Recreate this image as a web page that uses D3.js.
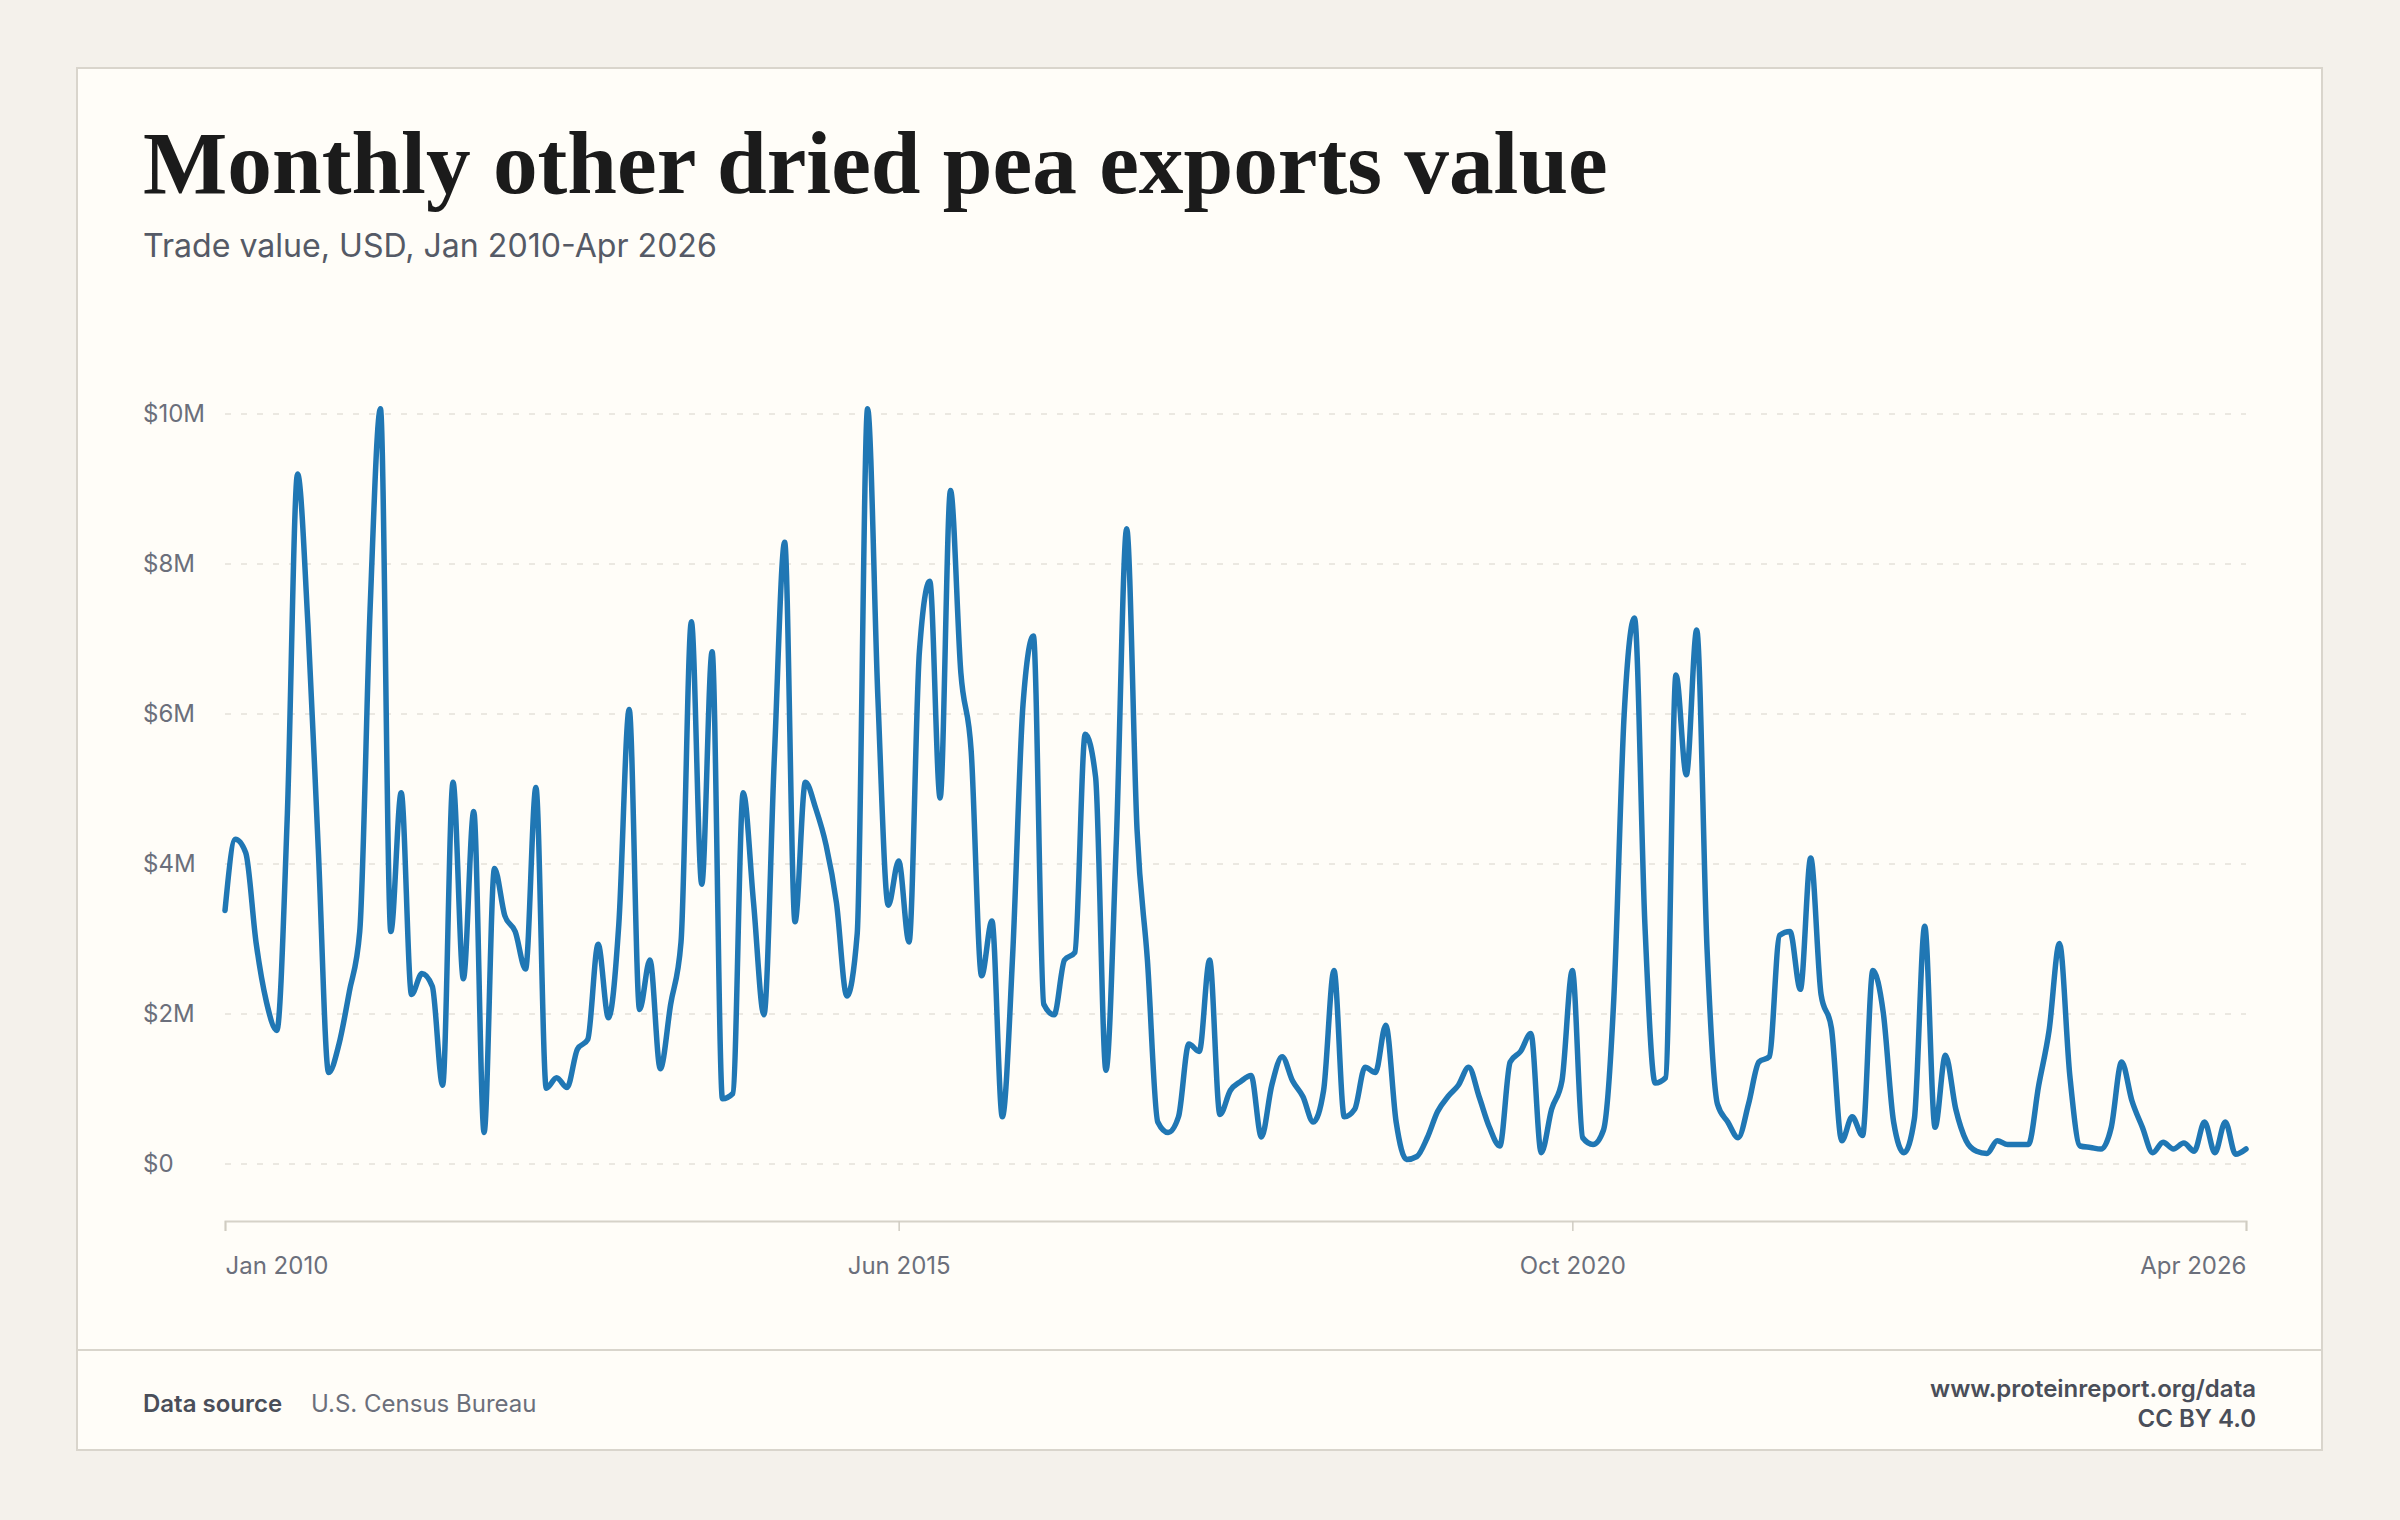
<!DOCTYPE html>
<html>
<head>
<meta charset="utf-8">
<script src="https://cdn.jsdelivr.net/npm/d3@7"></script>
<style>
  html, body { margin: 0; padding: 0; background: #f4f1eb; }
  svg { display: block; }
  text { font-family: Inter, 'Noto Sans', sans-serif; }
</style>
</head>
<body>
<div class="chart"></div>
<script>
// Monthly trade value, USD millions, Jan 2010 - Apr 2026 (one value per month)
const values = [
  3.38, 4.33, 4.15, 2.95, 2.16, 1.78, 4.6, 9.2, 7.2, 4.2, 1.22, 1.6,
  2.3, 3.1, 7.4, 10.07, 3.1, 4.95, 2.26, 2.54, 2.37, 1.05, 5.09, 2.47,
  4.7, 0.42, 3.94, 3.31, 3.1, 2.6, 5.02, 1.01, 1.15, 1.02, 1.53, 1.66,
  2.93, 1.95, 3.2, 6.06, 2.06, 2.72, 1.27, 2.13, 2.96, 7.23, 3.73, 6.83,
  0.87, 0.94, 4.95, 3.48, 1.99, 5.4, 8.29, 3.23, 5.09, 4.74, 4.25, 3.48,
  2.24, 3.07, 10.07, 6.2, 3.45, 4.04, 2.96, 6.83, 7.77, 4.88, 8.98, 6.55,
  5.5, 2.51, 3.24, 0.63, 2.79, 6.13, 7.04, 2.13, 1.99, 2.72, 2.82, 5.73,
  5.16, 1.25, 4.3, 8.47, 4.46, 2.72, 0.56, 0.42, 0.63, 1.6, 1.5, 2.72,
  0.66, 0.98, 1.1, 1.18, 0.36, 1.05, 1.43, 1.11, 0.9, 0.56, 0.98, 2.58,
  0.63, 0.73, 1.29, 1.22, 1.85, 0.56, 0.06, 0.1, 0.35, 0.7, 0.9, 1.05,
  1.29, 0.9, 0.49, 0.24, 1.36, 1.5, 1.74, 0.15, 0.73, 1.11, 2.58, 0.35,
  0.26, 0.45, 2.2, 5.99, 7.28, 3.2, 1.08, 1.15, 6.52, 5.19, 7.12, 2.86,
  0.8, 0.56, 0.35, 0.8, 1.36, 1.43, 3.05, 3.1, 2.33, 4.08, 2.26, 1.81,
  0.31, 0.63, 0.38, 2.58, 2.02, 0.56, 0.15, 0.6, 3.17, 0.49, 1.45, 0.73,
  0.31, 0.17, 0.14, 0.31, 0.26, 0.26, 0.26, 1.05, 1.78, 2.94, 1.18, 0.24,
  0.22, 0.2, 0.49, 1.36, 0.84, 0.49, 0.15, 0.29, 0.2, 0.28, 0.17, 0.56,
  0.15, 0.56, 0.13, 0.2
];
const yTicks = [0, 2, 4, 6, 8, 10];
const xTickLabels = ['Jan 2010', 'Jun 2015', 'Oct 2020', 'Apr 2026'];

const width = 2400, height = 1520;
const card = { x: 77, y: 68, w: 2245, h: 1382, footerY: 1350 };
const plot = { left: 225, right: 2246, top: 414, bottom: 1164, axisY: 1221 };

const svg = d3.select('.chart').append('svg')
    .attr('width', width)
    .attr('height', height);

// Card
svg.append('rect')
    .attr('x', card.x).attr('y', card.y)
    .attr('width', card.w).attr('height', card.h)
    .attr('fill', '#fffdf8')
    .attr('stroke', '#d9d5cc')
    .attr('stroke-width', 2);

svg.append('line')
    .attr('x1', card.x).attr('x2', card.x + card.w)
    .attr('y1', card.footerY).attr('y2', card.footerY)
    .attr('stroke', '#d9d5cc')
    .attr('stroke-width', 2);

// Title + subtitle, sized to the reference width
function fitText(sel, target) {
    const w = sel.node().getComputedTextLength();
    const fs = parseFloat(sel.attr('font-size'));
    sel.attr('font-size', fs * target / w);
}

const title = svg.append('text')
    .attr('x', 143).attr('y', 193)
    .style('font-family', "'Liberation Serif', 'DejaVu Serif', serif")
    .attr('font-weight', 700)
    .attr('font-size', 80)
    .attr('fill', '#1b1b1b')
    .text('Monthly other dried pea exports value');
fitText(title, 1465);

const subtitle = svg.append('text')
    .attr('x', 143).attr('y', 257)
    .attr('font-size', 30)
    .attr('fill', '#555a66')
    .text('Trade value, USD, Jan 2010-Apr 2026');
fitText(subtitle, 574);

// Scales
const xScale = d3.scaleLinear().domain([0, values.length - 1]).range([plot.left, plot.right]);
const yScale = d3.scaleLinear().domain([0, 10]).range([plot.bottom, plot.top]);

// Gridlines
svg.append('g')
    .selectAll('line')
    .data(yTicks)
    .join('line')
    .attr('x1', plot.left).attr('x2', plot.right)
    .attr('y1', d => yScale(d)).attr('y2', d => yScale(d))
    .attr('stroke', '#ebe8e1')
    .attr('stroke-width', 2)
    .attr('stroke-dasharray', '6,10');

// Y axis labels
const yAxis = svg.append('g')
    .attr('transform', `translate(${plot.left},0)`)
    .call(d3.axisLeft(yScale).tickValues(yTicks).tickSize(0)
        .tickFormat(d => d === 0 ? '$0' : `$${d}M`));
yAxis.select('.domain').remove();
yAxis.selectAll('text')
    .attr('x', 143 - plot.left)
    .attr('text-anchor', 'start')
    .style('font-size', '24px')
    .attr('fill', '#6b6f7b');

// X axis
const xTickIdx = d3.range(xTickLabels.length).map(i => i * (values.length - 1) / (xTickLabels.length - 1));
const xAxis = svg.append('g')
    .attr('transform', `translate(0,${plot.axisY})`)
    .call(d3.axisBottom(xScale).tickValues(xTickIdx).tickSizeOuter(0).tickSize(10).tickPadding(26)
        .tickFormat((d, i) => xTickLabels[i]));
xAxis.select('.domain').attr('stroke', '#d6d2c8').attr('stroke-width', 2);
xAxis.selectAll('.tick line').attr('stroke', '#d0ccc2').attr('stroke-width', 1.5);
xAxis.selectAll('text')
    .style('font-size', '24px')
    .attr('fill', '#6b6f7b')
    .attr('text-anchor', (d, i) => i === 0 ? 'start' : (i === xTickLabels.length - 1 ? 'end' : 'middle'));

// Line
const lineGenerator = d3.line()
    .x((d, i) => xScale(i))
    .y(d => yScale(d))
    .curve(d3.curveMonotoneX);

svg.append('path')
    .datum(values)
    .attr('d', lineGenerator)
    .attr('fill', 'none')
    .attr('stroke', '#2077b4')
    .attr('stroke-width', 5.5)
    .attr('stroke-linejoin', 'round')
    .attr('stroke-linecap', 'round');

// Footer
svg.append('text')
    .attr('x', 143).attr('y', 1412)
    .attr('font-size', 24).attr('font-weight', 600)
    .attr('fill', '#4a4e59')
    .text('Data source');
svg.append('text')
    .attr('x', 311).attr('y', 1412)
    .attr('font-size', 24)
    .attr('fill', '#6b6f7b')
    .text('U.S. Census Bureau');
svg.append('text')
    .attr('x', 2256).attr('y', 1397)
    .attr('text-anchor', 'end')
    .attr('font-size', 24).attr('font-weight', 600)
    .attr('fill', '#4a4e59')
    .text('www.proteinreport.org/data');
svg.append('text')
    .attr('x', 2256).attr('y', 1427)
    .attr('text-anchor', 'end')
    .attr('font-size', 24).attr('font-weight', 600)
    .attr('fill', '#4a4e59')
    .text('CC BY 4.0');
</script>
</body>
</html>
